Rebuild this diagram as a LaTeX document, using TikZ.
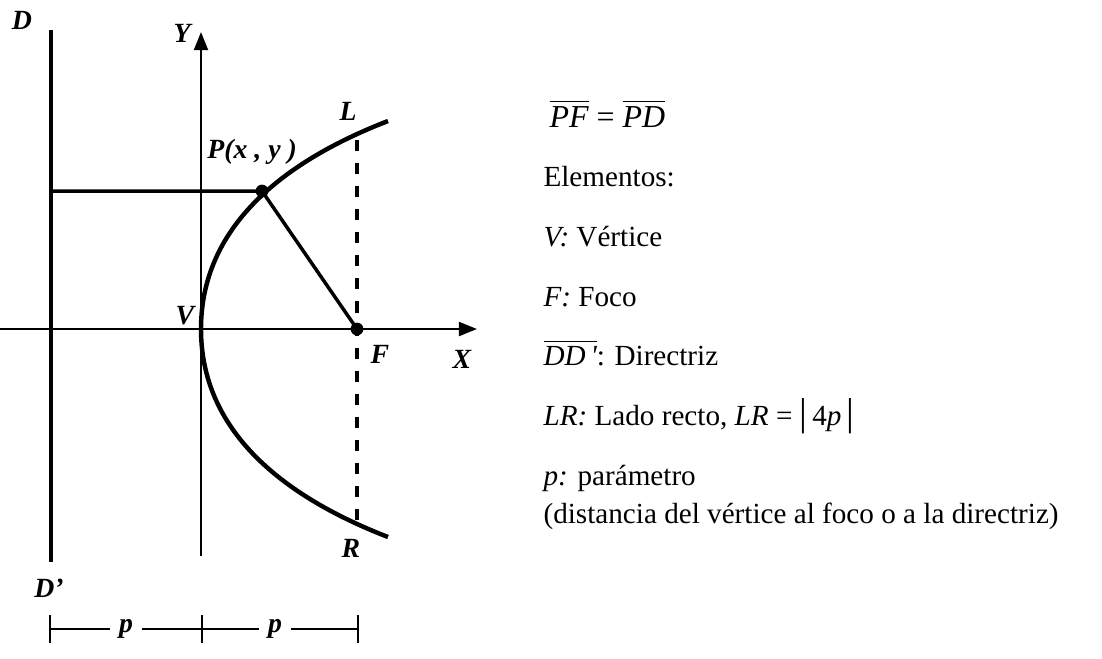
\documentclass[tikz,border=0pt]{standalone}
\usepackage{amsmath}
\usepackage{fontspec}
\setmainfont{Liberation Serif}
\usetikzlibrary{arrows.meta}

\begin{document}
\begin{tikzpicture}[x=0.36pt, y=-0.36pt, >={Triangle[length=6.5pt,width=5pt]},
  lbl/.style={font=\fontsize{10}{12}\selectfont\bfseries\itshape, inner sep=1pt},
  txt/.style={font=\fontsize{10.5}{12}\selectfont, anchor=base west, inner sep=0pt}]

  \useasboundingbox (0,0) rectangle (1102,658);

  \coordinate (V) at (201,329);
  \coordinate (F) at (357,329);
  \coordinate (P) at (262,191);
  \coordinate (Q) at (51,191);
  \coordinate (L) at (357,140);
  \coordinate (R) at (357,525);

  % axes
  \draw[->, line width=0.85pt] (0,329) -- (477,329);
  \draw[->, line width=0.85pt] (201,556) -- (201,32);
  \node[lbl] (xlab) at (462,359) {X};
  \node[lbl] (ylab) at (182,33) {Y};

  % directrix
  \draw[line width=1.7pt] (51,30) -- (51,562);
  \node[lbl] (dtop) at (22,20) {D};
  \node[lbl] (dbot) at (49,588) {D’};

  % parabola
  \draw[line width=1.6pt] (388,121) .. controls (279.5,163) and (201,229) .. (V)
    .. controls (201,429) and (279.5,495) .. (388,537);

  % latus rectum
  \draw[line width=1.7pt, dash pattern=on 4pt off 4.3pt] (L) -- (R);
  \node[lbl] (llab) at (348,111) {L};
  \node[lbl] (rlab) at (351,548) {R};

  % distances from P
  \draw[line width=1.25pt] (Q) -- (P) -- (F);
  \fill (P) circle (2.3pt);
  \fill (F) circle (2.3pt);
  \node[lbl, anchor=west] (plab) at (204,152) {P(x , y )};
  \node[lbl] (vlab) at (185,316) {V};
  \node[lbl] (flab) at (380,354) {F};

  % parameter marks
  \coordinate (t1) at (50,629);
  \coordinate (t2) at (202,629);
  \coordinate (t3) at (358,629);
  \node[lbl, inner sep=3pt] (p1) at (126,629) {p};
  \node[lbl, inner sep=3pt] (p2) at (275,629) {p};
  \draw[line width=0.9pt] (t1) -- (p1) -- (t2) -- (p2) -- (t3);
  \foreach \t in {t1,t2,t3}
    \draw[line width=0.9pt] (\t) ++(0,-14) -- ++(0,28);

  % list of elements
  \node[txt, font=\fontsize{11.5}{13}\selectfont] (eq) at (549,127)
    {$\overline{\mbox{\itshape PF}}$ = $\overline{\mbox{\itshape PD}}$};
  \node[txt] (elem) at (543,186) {Elementos:};
  \node[txt] (vert) at (543,246) {\textit{V:} Vértice};
  \node[txt] (foco) at (543,306) {\textit{F:} Foco};
  \node[txt] (dirz) at (543,365)
    {$\overline{\mbox{\itshape DD\,\textquotesingle}}$: Directriz};
  \node[txt] (lado) at (543,425)
    {\textit{LR:} Lado recto, \textit{LR} = {\fontsize{14}{14}\selectfont|}\,4\textit{p}\,{\fontsize{14}{14}\selectfont|}};
  \node[txt] (param) at (543,485) {\textit{p:} parámetro};
  \node[txt] (dist) at (543,523) {(distancia del vértice al foco o a la directriz)};

\end{tikzpicture}
\end{document}
